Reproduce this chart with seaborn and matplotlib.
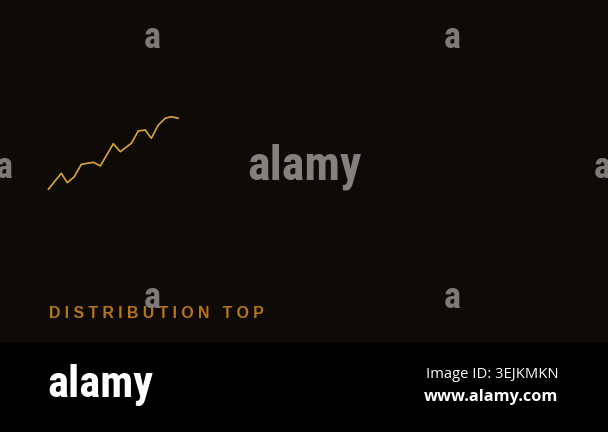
import matplotlib
matplotlib.use("Agg")
import matplotlib.pyplot as plt
import seaborn as sns
import pandas as pd

# ---- data ----
days = [0, 13, 19, 26, 33, 45, 52, 65, 72, 83, 90, 97, 103, 110, 117, 123, 130]
values = [0, 16, 6.6, 12.6, 25, 27, 23.3, 45.6, 37.6, 46, 58.3, 59.3, 51, 64.3, 71, 72.6, 71]
title_text = "DISTRIBUTION TOP"
logo_text = "alamy"
image_id = "Image ID: 3EJKMKN"
site_text = "www.alamy.com"

sns.set_theme(style="dark")
plt.rcParams["font.family"] = ["DejaVu Sans"]

W, H = 608, 432
fig = plt.figure(figsize=(W / 100, H / 100), dpi=100, facecolor="#000000")

band_h = 90
ax = fig.add_axes([0, band_h / H, 1, (H - band_h) / H])
ax.set_facecolor("#0e0a05")
df = pd.DataFrame({"day": days, "value": values})
sns.lineplot(data=df, x="day", y="value", ax=ax, color="#d9a43c", linewidth=1.2)
# axis range chosen so 1 data unit ~ 1 pixel
ax.set_xlim(-48.3, W - 48.3)
ax.set_ylim(189.3 - (H - band_h), 189.3)
ax.set_xticks([])
ax.set_yticks([])
ax.set_xlabel("")
ax.set_ylabel("")
for s in ax.spines.values():
    s.set_visible(False)

def fx(px):
    return px / W

def fy(py):
    return 1 - py / H

narrow = ["Roboto Condensed", "DejaVu Sans"]

# caption with wide letter spacing
words = title_text.split(" ")
spaced = "   ".join(" ".join(list(w)) for w in words)
fig.text(fx(49), fy(313), spaced, color="#b8741a", fontsize=11.4, fontweight="bold",
         family=["Liberation Sans", "DejaVu Sans"], ha="left", va="center")

# watermarks
wm_color = "#8a8784"
for (px, py) in [(152, 38), (452, 38), (152, 298), (452, 298), (4, 168), (602, 168)]:
    fig.text(fx(px), fy(py), "a", color=wm_color, fontsize=26, fontweight="bold",
             family=narrow, ha="center", va="center", alpha=0.9)
fig.text(fx(304), fy(167), logo_text, color=wm_color, fontsize=34.5, fontweight="bold",
         family=narrow, ha="center", va="center", alpha=0.95)

# bottom band
fig.text(fx(100), fy(385), logo_text, color="white", fontsize=32, fontweight="bold",
         family=narrow, ha="center", va="center")
fig.text(fx(558), fy(374), image_id, color="white", fontsize=10.6,
         family=["Open Sans", "DejaVu Sans"], ha="right", va="center")
fig.text(fx(558), fy(397), site_text, color="white", fontsize=11.8, fontweight="bold",
         family=["Open Sans", "DejaVu Sans"], ha="right", va="center")

fig.savefig("out.png", dpi=100, facecolor=fig.get_facecolor())
